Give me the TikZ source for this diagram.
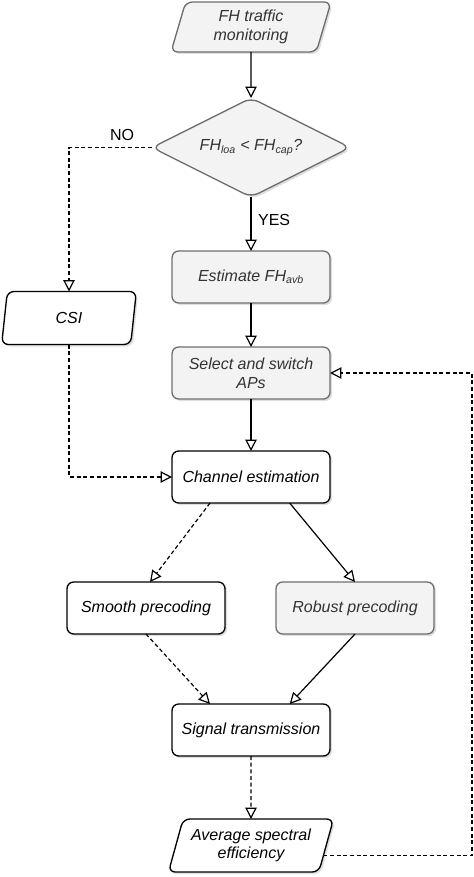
\documentclass[tikz,border=0pt]{standalone}
\usepackage{fontspec}
\setmainfont{Liberation Sans}
\usetikzlibrary{positioning, shapes.geometric, arrows.meta, shadows}

\definecolor{boxgrey}{HTML}{F3F3F3}
\definecolor{edgegrey}{HTML}{6E6E6E}

\begin{document}
\begin{tikzpicture}[
    x=0.75pt, y=-0.75pt,
    every node/.style={font=\fontsize{12}{14}\selectfont\itshape, outer sep=0pt},
    box/.style={rectangle, draw, line width=1pt, rounded corners=5pt, minimum width=118.5pt, minimum height=39pt, align=center, fill=white, drop shadow={shadow xshift=1.5pt, shadow yshift=-1.5pt, opacity=0.25}},
    greybox/.style={box, draw=edgegrey, fill=boxgrey, text=black!80},
    io/.style={trapezium, trapezium left angle=68, trapezium right angle=112, trapezium stretches body, draw, line width=1pt, rounded corners=5pt, minimum width=123.75pt, minimum height=39.75pt, inner sep=1pt, align=center, fill=white, drop shadow={shadow xshift=1.5pt, shadow yshift=-1.5pt, opacity=0.25}},
    greyio/.style={draw=edgegrey, fill=boxgrey, text=black!80},
    decision/.style={diamond, aspect=2, draw=edgegrey, fill=boxgrey, text=black!80, line width=1pt, rounded corners=6pt, minimum width=148.5pt, minimum height=74.25pt, inner sep=0pt, drop shadow={shadow xshift=1.5pt, shadow yshift=-1.5pt, opacity=0.25}},
    arrow/.style={-{Triangle[open, length=8.5pt, width=8.5pt]}, line width=0.9pt},
    dashline/.style={arrow, dash pattern=on 3pt off 2pt},
    tag/.style={font=\fontsize{12}{14}\selectfont\upshape}
]
    \useasboundingbox (0,0) rectangle (474,877);

    \node[io, greyio, minimum width=120pt, minimum height=37.5pt] (mon) at (251,27) {FH traffic\\monitoring};
    \node[decision, below=34.5pt of mon] (check) {FH\textsubscript{loa} < FH\textsubscript{cap}?};
    \node[greybox, below=40.5pt of check] (avb) {Estimate FH\textsubscript{avb}};
    \node[greybox, below=33pt of avb] (aps) {Select and switch\\APs};
    \node[box, below=39pt of aps] (chest) {Channel estimation};
    \node[box, below=59.25pt of chest, xshift=-78.75pt] (smooth) {Smooth precoding};
    \node[greybox, below=59.25pt of chest, xshift=78pt] (robust) {Robust precoding};
    \node[box, below=52.5pt of smooth, xshift=78.75pt] (tx) {Signal transmission};
    \node[io, below=47.25pt of tx] (ase) {Average spectral\\efficiency};
    \node[io, minimum width=101pt] (csi) at (69,318) {CSI};
    \coordinate[right=106.5pt of aps.east] (back);

    \draw[arrow] (mon) -- (check);
    \draw[dashline] (check.west) -| node[tag, pos=0.18, above=2pt] {NO} (csi.north);
    \draw[arrow] (check) -- node[tag, right=2pt, pos=0.42] {YES} (avb);
    \draw[arrow] (avb) -- (aps);
    \draw[arrow] (aps) -- (chest);
    \draw[dashline] (csi.south) |- (chest.west);
    \draw[dashline] ([xshift=-30.75pt]chest.south) -- ([xshift=3pt]smooth.north);
    \draw[arrow] ([xshift=29pt]chest.south) -- (robust.north);
    \draw[dashline] (smooth.south) -- ([xshift=-30.75pt]tx.north);
    \draw[arrow] (robust.south) -- ([xshift=29pt]tx.north);
    \draw[dashline] (tx) -- (ase);

    % feedback to AP selection
    \draw[dashline] (ase.-8) -| (back) -- (aps.east);
\end{tikzpicture}
\end{document}
